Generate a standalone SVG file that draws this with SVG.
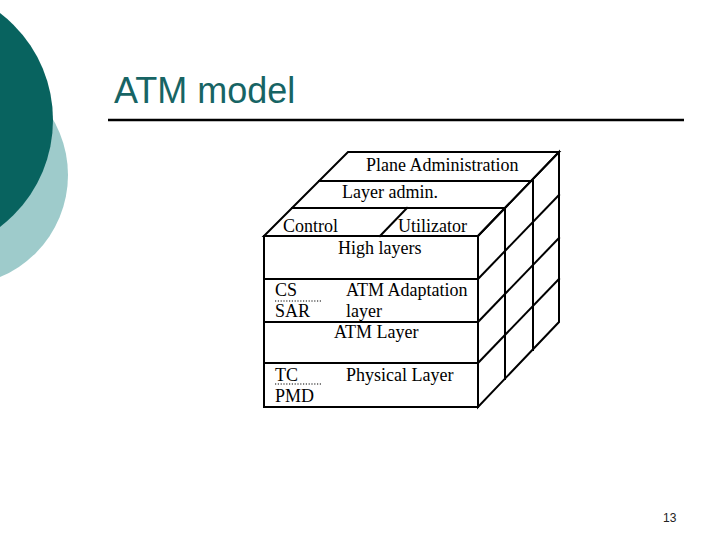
<svg xmlns="http://www.w3.org/2000/svg" width="720" height="540" viewBox="0 0 720 540">
<style>
.t{font-family:"Liberation Serif","Times New Roman",serif;font-size:18px;fill:#000}
.ln{stroke:#000;stroke-width:2;fill:none;stroke-linecap:square}
.dot{stroke:#000;stroke-width:1.2;stroke-dasharray:1.2 1.6;fill:none}
</style>
<rect width="720" height="540" fill="#fff"/>
<g id="decor">
<circle cx="-42.5" cy="175" r="110.5" fill="#9ecbcb"/>
<circle cx="-81.5" cy="120" r="134.5" fill="#08635f"/>
</g>
<g id="title">
<text x="114" y="103" font-family="Liberation Sans, Arial, sans-serif" font-size="36" fill="#176464">ATM model</text>
<line x1="108" y1="120" x2="684" y2="120" stroke="#000" stroke-width="2.5"/>
</g>
<g id="connectors">
<polygon class="ln" points="264,236 348,152 559,152 478,236"/>
<polygon class="ln" points="478,236 559,152 559,322 478,407"/>
<rect class="ln" x="264" y="236" width="214" height="171"/>
<line class="ln" x1="319" y1="181" x2="533" y2="181"/>
<line class="ln" x1="292" y1="208" x2="505" y2="208"/>
<line class="ln" x1="380" y1="236" x2="407" y2="208"/>
<line class="ln" x1="505" y1="208" x2="505" y2="379"/>
<line class="ln" x1="533" y1="181" x2="533" y2="350"/>
<line class="ln" x1="264" y1="279" x2="478" y2="279"/>
<line class="ln" x1="264" y1="322" x2="478" y2="322"/>
<line class="ln" x1="264" y1="363" x2="478" y2="363"/>
<line class="ln" x1="478" y1="279" x2="559" y2="195"/>
<line class="ln" x1="478" y1="322" x2="559" y2="238"/>
<line class="ln" x1="478" y1="363" x2="559" y2="279"/>
<line class="dot" x1="275" y1="301" x2="321" y2="301"/>
<line class="dot" x1="275" y1="384" x2="321" y2="384"/>
</g>
<g id="plane-admin"><text class="t" x="366" y="171">Plane Administration</text></g>
<g id="layer-admin"><text class="t" x="342" y="198">Layer admin.</text></g>
<g id="control"><text class="t" x="283" y="232">Control</text></g>
<g id="utilizator"><text class="t" x="398" y="232">Utilizator</text></g>
<g id="high-layers"><text class="t" x="338" y="254">High layers</text></g>
<g id="aal">
<text class="t" x="275" y="296">CS</text>
<text class="t" x="275" y="317">SAR</text>
<text class="t" x="346" y="296">ATM Adaptation</text>
<text class="t" x="346" y="317">layer</text>
</g>
<g id="atm-layer"><text class="t" x="334" y="338">ATM Layer</text></g>
<g id="physical">
<text class="t" x="275" y="381">TC</text>
<text class="t" x="275" y="402">PMD</text>
<text class="t" x="346" y="381">Physical Layer</text>
</g>
<g id="page"><text x="663" y="522" font-family="Liberation Sans, Arial, sans-serif" font-size="12" fill="#222">13</text></g>
</svg>
